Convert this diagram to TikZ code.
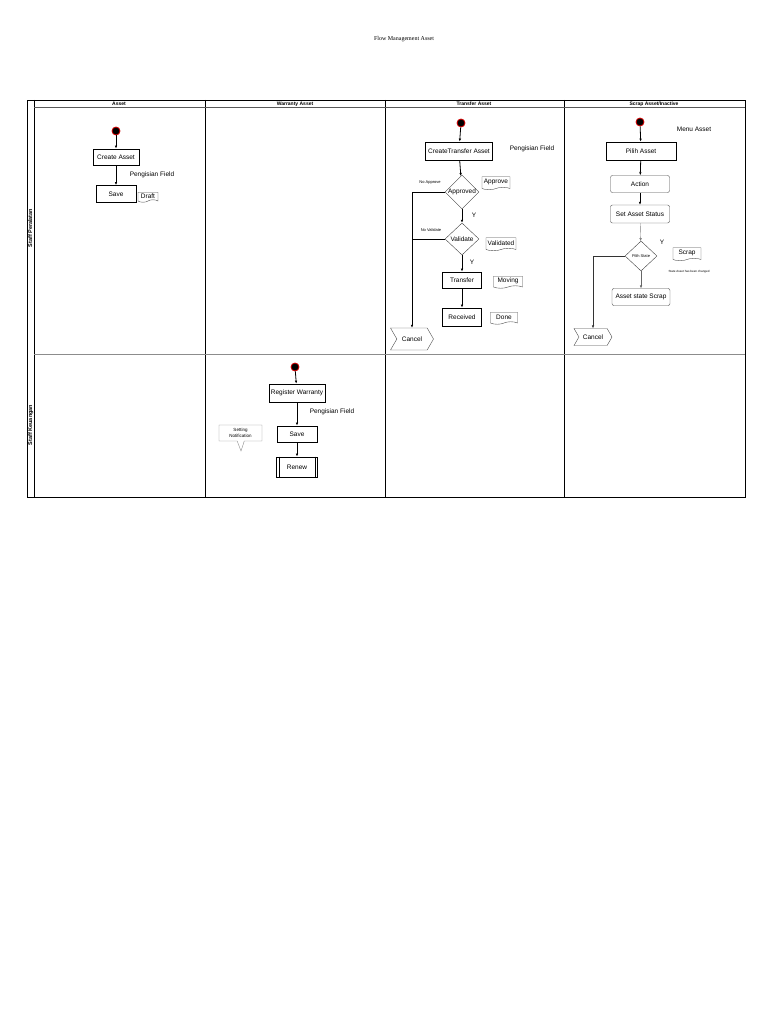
\documentclass[tikz,border=0pt]{standalone}
\usepackage{fontspec}
\setmainfont{Liberation Sans}
\newfontfamily\titlefont{Liberation Serif}
\usetikzlibrary{arrows.meta,positioning,calc,shapes.geometric,shapes.symbols,shapes.callouts}

\begin{document}
\begin{tikzpicture}[x=1pt, y=-1pt,
    every node/.style={font=\fontsize{6.5}{7.5}\selectfont},
    box/.style={draw, thick, minimum width=40pt, minimum height=17pt, inner sep=0.5pt},
    rbox/.style={draw=black!70, rounded corners=2pt, minimum width=59pt, minimum height=17pt, inner sep=0.5pt},
    start/.style={circle, fill=black, draw=red!85!black, thick, minimum size=8pt, inner sep=0pt},
    decision/.style={diamond, draw=black!75, aspect=1, inner sep=0pt, minimum width=34pt, minimum height=32pt},
    doc/.style={tape, draw=black!70, tape bend top=none, tape bend height=2.5pt, inner sep=1pt, minimum height=12pt},
    cancel/.style={signal, signal to=east, signal from=west, signal pointer angle=120, draw=black!70, minimum width=42pt, minimum height=20pt, inner sep=1pt},
    head/.style={font=\fontsize{5}{6}\selectfont\bfseries, anchor=base, inner sep=0pt},
    lane/.style={rotate=90, font=\fontsize{5.5}{6}\selectfont\bfseries, text height=4pt, text depth=1pt, inner sep=0pt},
    tiny/.style={font=\fontsize{4}{5}\selectfont},
    arr/.style={-{Latex[length=3pt,width=2.5pt]}, thick}
  ]
  \useasboundingbox (0,0) rectangle (768,1024);
  \node[font=\fontsize{6}{7}\selectfont\titlefont] (title) at (404,39) {Flow Management Asset};
  % swimlane frame
  \draw[thick] (27,100) rectangle (745,497);
  \draw (34,100) -- (34,497);
  \foreach \x in {205,385,564} \draw[thick] (\x,100) -- (\x,497);
  \draw[line width=1.4pt, black!65] (34,107.5) -- (745,107.5);
  \draw[black!45] (34,354) -- (745,354);
  \node[head] (h1) at (119,105.6) {Asset};
  \node[head] (h2) at (295,105.6) {Warranty Asset};
  \node[head] (h3) at (474,105.6) {Transfer Asset};
  \node[head] (h4) at (654,105.6) {Scrap Asset/Inactive};
  \node[lane] (l1) at (30.5,228) {Staff Peralatan};
  \node[lane] (l2) at (30.5,425) {Staff Keuangan};
  % asset
  \node[start] (a0) at (116,131) {};
  \node[box, minimum width=46pt, minimum height=16pt] (acreate) at (116,157) {Create Asset};
  \node (afield) at (152,175) {Pengisian Field};
  \node[box] (asave) at (116,194) {Save};
  \node[doc, minimum width=20pt, minimum height=10pt] (adraft) at (148,196) {Draft};
  \draw[arr] (a0) -- (acreate);
  \draw[arr] (acreate) -- (asave);
  % transfer
  \node[start] (t0) at (461,123) {};
  \node[box, minimum width=67pt, minimum height=18pt] (tcreate) at (459,151) {CreateTransfer Asset};
  \node (tfield) at (532,149) {Pengisian Field};
  \node[decision] (tapp) at (462,192) {Approved};
  \node[tiny] (tnoapp) at (430,183) {No Approve};
  \node[doc, minimum width=28pt, minimum height=13pt] (tapprove) at (496,182) {Approve};
  \node (ty1) at (474,215) {Y};
  \node[decision] (tval) at (462,239) {Validate};
  \node[tiny] (tnoval) at (431,230) {No Validate};
  \node[doc, minimum width=30pt, minimum height=13pt] (tvalidated) at (501,243) {Validated};
  \node (ty2) at (472,262) {Y};
  \node[box, minimum width=39pt, minimum height=16pt] (ttrans) at (462,280) {Transfer};
  \node[doc, minimum width=29pt, minimum height=12pt] (tmoving) at (508,281) {Moving};
  \node[box, minimum width=39pt, minimum height=18pt] (trecv) at (462,317) {Received};
  \node[doc, minimum width=27pt, minimum height=12pt] (tdone) at (504,317) {Done};
  \node[cancel, minimum width=43pt, minimum height=22pt] (tcancel) at (412,339) {Cancel};
  \draw[arr] (t0) -- (tcreate);
  \draw[arr] (tcreate) -- (tapp);
  \draw[arr] (tapp) -- (tval);
  \draw[arr] (tval) -- (ttrans);
  \draw[arr] (ttrans) -- (trecv);
  \draw[arr] (tapp.west) -| (tcancel.north);
  \draw[thick] (tval.west) -- (tval.west -| tcancel.north);
  % scrap
  \node[start] (s0) at (640,122) {};
  \node (smenu) at (694,129) {Menu Asset};
  \node[box, minimum width=70pt, minimum height=18pt] (spilih) at (641,151) {Pilih Asset};
  \node[rbox] (saction) at (640,184) {Action};
  \node[rbox, minimum height=18pt] (sstatus) at (640,214) {Set Asset Status};
  \node[decision, minimum width=32pt, minimum height=30pt, font=\fontsize{4}{5}\selectfont] (sstate) at (641,256) {Pilih State};
  \node (sy) at (662,242) {Y};
  \node[doc, minimum width=28pt, minimum height=13pt] (sdoc) at (687,253) {Scrap};
  \node[tiny, font=\fontsize{3}{4}\selectfont] (schanged) at (689,272) {State Asset has been changed};
  \node[rbox, minimum width=58pt] (sscrap) at (641,297) {Asset state Scrap};
  \node[cancel, minimum width=38pt, minimum height=17pt] (scancel) at (593,337) {Cancel};
  \draw[arr] (s0) -- (spilih);
  \draw[arr] (spilih) -- (saction);
  \draw[arr] (saction) -- (sstatus);
  \draw[arr, black!50, thin] (sstatus) -- (sstate);
  \draw[arr, black!60, thin] (sstate) -- (sscrap);
  \draw[arr, black!80, thin] (sstate.west) -| (scancel.north);
  % warranty
  \node[start] (w0) at (295,367) {};
  \node[box, minimum width=56pt, minimum height=18pt] (wreg) at (297,393) {Register Warranty};
  \node (wfield) at (332,412) {Pengisian Field};
  \node[box, minimum height=16pt] (wsave) at (297,434) {Save};
  \node[rectangle callout, draw=black!45, align=center, inner sep=1pt, minimum width=43pt, minimum height=16pt,
        font=\fontsize{4.5}{5.5}\selectfont, callout absolute pointer={(241,451)}] (wnotif) at (240.5,433) {Setting\\Notification};
  \node[box, minimum width=41pt, minimum height=20pt] (wrenew) at (297,467) {Renew};
  \draw ([xshift=3pt]wrenew.north west) -- ([xshift=3pt]wrenew.south west);
  \draw ([xshift=-3pt]wrenew.north east) -- ([xshift=-3pt]wrenew.south east);
  \draw[arr] (w0) -- (wreg);
  \draw[arr] (wreg) -- (wsave);
  \draw[arr] (wsave) -- (wrenew);
\end{tikzpicture}
\end{document}
